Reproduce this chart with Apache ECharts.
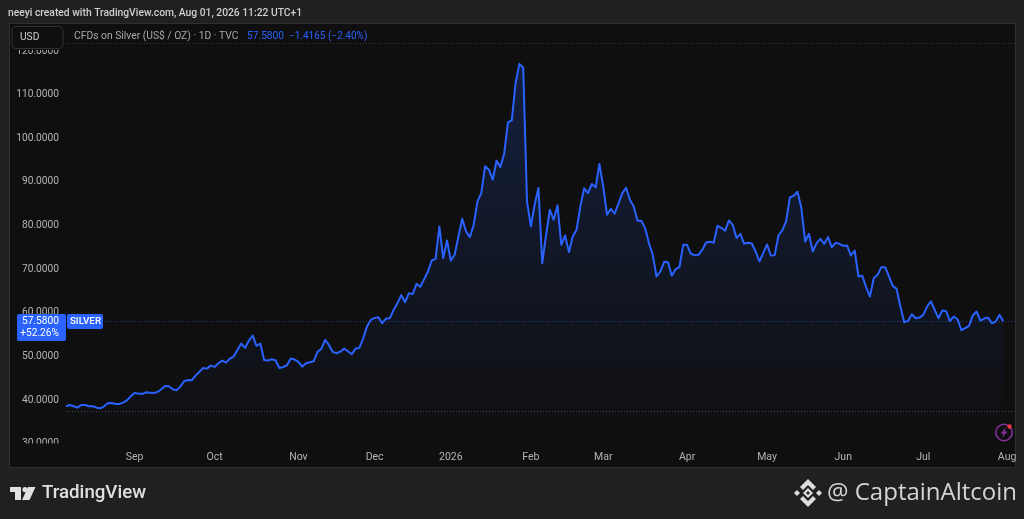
<!DOCTYPE html>
<html>
<head>
<meta charset="utf-8">
<style>html,body{margin:0;padding:0;background:#202020}#c{width:1024px;height:519px}</style>
<script src="https://cdn.jsdelivr.net/npm/echarts@6/dist/echarts.min.js"></script>
</head>
<body>
<div id="c"></div>
<script>
const silverClose = [
38.09,38.39,38.09,37.78,38.39,38.39,38.09,38.09,37.78,37.63,
38.09,38.78,38.85,38.62,38.62,38.93,39.47,40.38,41.15,41.0,
40.92,41.3,41.22,41.15,41.38,41.99,42.75,42.68,41.99,41.76,
42.61,43.83,44.13,44.06,45.13,45.97,46.89,46.73,47.42,47.12,
47.96,48.57,48.11,49.03,49.49,51.02,52.47,51.47,53.16,54.30,
51.93,52.47,48.72,48.57,48.87,48.64,46.88,47.11,47.5,49.03,
48.8,48.26,47.19,47.95,48.18,48.41,50.56,51.24,53.31,52.16,
50.56,50.25,50.63,51.32,50.71,50.02,51.32,51.47,53.69,56.37,
57.9,58.36,58.51,57.14,58.21,58.29,60.2,61.73,63.57,61.96,
64.03,63.8,66.17,65.48,67.24,69.0,71.52,71.9,79.33,72.06,
76.11,71.52,72.82,77.03,81.08,78.18,76.88,79.71,85.06,86.97,
93.1,92.33,90.04,94.39,92.94,96.0,103.19,103.65,112.22,116.6,
115.7,85.06,79.32,84.3,88.12,70.91,77.4,83.15,80.85,84.15,
75.12,77.26,73.43,77.03,78.56,83.92,88.05,86.97,89.04,88.28,
93.63,88.5,82.0,83.38,82.23,84.53,86.97,88.2,85.45,83.92,
80.63,80.63,78.94,75.5,72.82,67.85,69.0,71.22,71.14,68.0,
69.53,69.99,75.11,75.11,73.05,72.74,72.82,73.96,75.65,75.8,
75.57,79.47,79.01,78.33,80.7,79.7,76.64,77.64,75.34,75.57,
75.42,73.58,71.29,73.2,75.19,72.66,72.74,77.25,78.4,80.47,
85.98,86.36,87.28,83.53,75.88,77.64,73.58,75.5,76.49,75.34,
76.87,74.58,75.57,75.34,74.88,74.96,72.66,73.81,67.85,68.0,
65.4,63.26,67.46,68.23,69.99,69.99,67.85,65.7,65.01,60.96,
57.37,57.67,59.2,58.28,58.43,59.05,60.96,62.18,60.2,58.28,
60.04,59.89,57.67,58.67,58.05,55.53,55.99,56.52,58.9,59.81,
57.75,58.21,58.43,57.13,57.52,59.05,57.58
];
const tickLabels = ['Sep','Oct','Nov','Dec','2026','Feb','Mar','Apr','May','Jun','Jul','Aug'];
const tickIndex = [18,39,61,81,101,122,141,163,184,204,225,247];
const barCount = 250;
const lastPrice = 57.58;
const baselinePrice = 36.9;
const priceMin = 30, priceMax = 120, priceStep = 10;

const categories = [];
for (let i = 0; i < barCount; i++) {
  const k = tickIndex.indexOf(i);
  categories.push(k >= 0 ? tickLabels[k] : '');
}

const FONT = 'Roboto, "Noto Sans", sans-serif';
const PANEL = '#0f0f0f', PAGE = '#202020', BLUE = '#2962ff', TXT = '#b4b4b4';

function txt(x, y, text, fill, size, extra) {
  return {type:'text', z:60, silent:true, style:Object.assign({x, y, text, fill, font:(extra&&extra.weight||'400')+' '+size+'px '+(extra&&extra.family||FONT), textAlign:(extra&&extra.align)||'left', textVerticalAlign:'middle'})};
}
function poly(points, fill) {
  return {type:'polygon', z:60, silent:true, shape:{points}, style:{fill}};
}
const cx = 808, cy = 493, L = '#dddddd';
function at(p){ return p.map(q => [cx+q[0], cy+q[1]]); }

const graphics = [
  {type:'rect', z:-10, silent:true, shape:{x:9.5,y:23.5,width:1006,height:444}, style:{fill:PANEL, stroke:'#2f2f2f', lineWidth:1}},
  {type:'line', z:1, silent:true, shape:{x1:66,y1:43.5,x2:1015,y2:43.5}, style:{stroke:'#3a3a3a', lineWidth:1, lineDash:[1,2]}},
  // clip the price scale at its top and bottom
  {type:'rect', z:50, silent:true, shape:{x:11,y:44,width:53,height:6}, style:{fill:PANEL}},
  {type:'rect', z:50, silent:true, shape:{x:11,y:443.5,width:53,height:6}, style:{fill:PANEL}},
  // currency box
  {type:'rect', z:55, silent:true, shape:{x:12,y:26.5,width:51,height:22,r:4}, style:{fill:PANEL, stroke:'#333333', lineWidth:1}},
  txt(20, 37.5, 'USD', '#d0d0d0', 10.2),
  // top caption
  txt(8, 13, 'neeyi created with TradingView.com, Aug 01, 2026 11:22 UTC+1', '#cfcfcf', 10.3, {weight:'500'}),
  txt(74, 36.5, 'CFDs on Silver (US$ / OZ) · 1D · TVC', '#a8a8a8', 10.3),
  txt(247, 36.5, '57.5800', BLUE, 10.2),
  txt(289, 36.5, '−1.4165 (−2.40%)', BLUE, 10),
  // price tags
  {type:'rect', z:55, silent:true, shape:{x:17,y:314,width:49,height:27,r:2}, style:{fill:BLUE}},
  {type:'rect', z:55, silent:true, shape:{x:67,y:314,width:36,height:15,r:2}, style:{fill:BLUE}},
  txt(59, 321.5, lastPrice.toFixed(4), '#ffffff', 10.2, {align:'right'}),
  txt(59, 333.5, '+52.26%', '#ffffff', 10.2, {align:'right'}),
  txt(85.5, 321.5, 'SILVER', '#ffffff', 9.8, {align:'center', weight:'500'}),
  // TradingView mark
  poly([[10,487],[21,487],[21,500],[15,500],[15,492],[10,492]], '#e0e0e0'),
  {type:'circle', z:60, silent:true, shape:{cx:25,cy:489.6,r:2.6}, style:{fill:'#e0e0e0'}},
  poly([[28,487],[35.5,487],[29.5,500],[22,500]], '#e0e0e0'),
  txt(42, 493, 'TradingView', '#e0e0e0', 18.7, {weight:'500'}),
  // diamond mark
  poly(at([[0,-14],[8,-6],[5,-3],[0,-8],[-5,-3],[-8,-6]]), L),
  poly(at([[0,14],[8,6],[5,3],[0,8],[-5,3],[-8,6]]), L),
  poly(at([[-14,0],[-11,-3],[-8,0],[-11,3]]), L),
  poly(at([[14,0],[11,-3],[8,0],[11,3]]), L),
  poly(at([[0,-5],[5,0],[0,5],[-5,0]]), L),
  poly(at([[0,-2],[2,0],[0,2],[-2,0]]), PAGE),
  txt(827, 493, '@ CaptainAltcoin', '#d4d4d4', 24, {family:'"Open Sans", sans-serif'}),
  // bolt badge
  {type:'circle', z:60, silent:true, shape:{cx:1004,cy:432.5,r:8.2}, style:{fill:'none', stroke:'#85309c', lineWidth:1.6}},
  poly([[1006,427],[1000.5,433.5],[1003.5,433.5],[1002,438],[1007.5,431.5],[1004.5,431.5]], '#85309c'),
  {type:'circle', z:61, silent:true, shape:{cx:1009.5,cy:426.5,r:2.2}, style:{fill:'#f23645'}}
];

const chart = echarts.init(document.getElementById('c'), null, {renderer:'canvas'});
chart.setOption({
  animation:false,
  backgroundColor:PAGE,
  grid:{left:66, right:9.3, top:49, bottom:77.4, containLabel:false},
  xAxis:{
    type:'category', data:categories, boundaryGap:false,
    axisLine:{show:false}, axisTick:{show:false}, splitLine:{show:false},
    axisLabel:{color:TXT, fontFamily:FONT, fontSize:10.5, margin:10, hideOverlap:false,
      interval:(i, v) => v !== ''}
  },
  yAxis:{
    type:'value', min:priceMin, max:priceMax, interval:priceStep,
    axisLine:{show:false}, axisTick:{show:false}, splitLine:{show:false},
    axisLabel:{margin:7, formatter:v => '{p|' + v.toFixed(4) + '}',
      rich:{p:{color:TXT, fontFamily:FONT, fontSize:10.2, padding:[4,0,0,0]}}}
  },
  graphic:graphics,
  series:[{
    type:'line', data:silverClose, showSymbol:false, symbol:'none', smooth:false,
    lineStyle:{color:BLUE, width:2, join:'round'},
    areaStyle:{color:new echarts.graphic.LinearGradient(0,0,0,1,[
      {offset:0,color:'rgba(41,98,255,0.28)'},
      {offset:1,color:'rgba(41,98,255,0)'}
    ])},
    markLine:{silent:true, symbol:'none', animation:false, label:{show:false},
      data:[
        {yAxis:lastPrice, lineStyle:{color:'rgba(41,98,255,0.55)', type:[1,2], width:1}},
        {yAxis:baselinePrice, lineStyle:{color:'#444444', type:[1,2], width:1}}
      ]}
  }]
});
</script>
</body>
</html>
